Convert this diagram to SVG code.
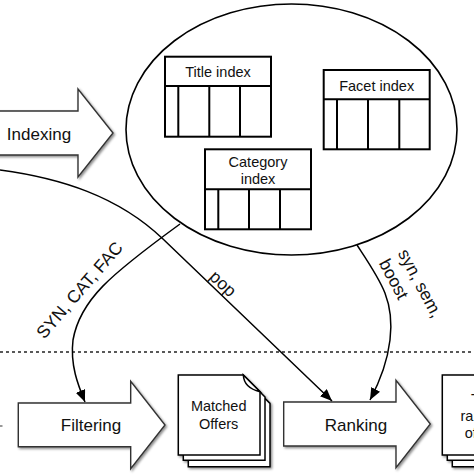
<svg xmlns="http://www.w3.org/2000/svg" width="474" height="474" viewBox="0 0 474 474">
<defs>
<style>
text{font-family:"Liberation Sans",Arial,sans-serif;fill:#111}
.big{font-size:17px;text-anchor:middle}
.sm{font-size:14.5px;text-anchor:middle}
.lbl{font-size:17.5px}
.arrow{fill:#fff;stroke:#333;stroke-width:1.4;stroke-linejoin:miter;filter:url(#sh)}
.tbl{fill:#fff;stroke:#000;stroke-width:2}
.page{fill:#fff;stroke:#000;stroke-width:1.5;stroke-linejoin:miter}
.conn{fill:none;stroke:#000;stroke-width:1.5}
</style>
<filter id="sh" x="-10%" y="-10%" width="130%" height="130%">
<feDropShadow dx="1.5" dy="1.5" stdDeviation="1" flood-color="#000" flood-opacity="0.45"/>
</filter>
<marker id="ah" markerUnits="userSpaceOnUse" markerWidth="13" markerHeight="10" refX="12" refY="5" orient="auto">
<path d="M0,0 L12,5 L0,10 z" fill="#000"/>
</marker>
<path id="pg" d="M0,0 L65,0 L81.7,16.7 L81.7,80 L0,80 z"/>
</defs>
<rect width="474" height="474" fill="#fff"/>

<g id="index-store">
<ellipse cx="291.5" cy="129.5" rx="165.5" ry="125.5" fill="none" stroke="#000" stroke-width="1.6"/>
</g>

<g id="title-index">
<rect class="tbl" x="165" y="56.7" width="106" height="80"/>
<path class="tbl" d="M165,86 H271 M178.3,86 V136.7 M209.3,86 V136.7 M240,86 V136.7"/>
<text class="sm" x="218" y="77">Title index</text>
</g>

<g id="facet-index">
<rect class="tbl" x="323.7" y="70" width="106" height="79.3"/>
<path class="tbl" d="M323.7,99.3 H429.7 M337,99.3 V149.3 M368,99.3 V149.3 M399.3,99.3 V149.3"/>
<text class="sm" x="376.7" y="91">Facet index</text>
</g>

<g id="category-index">
<rect class="tbl" x="205" y="149.3" width="106" height="80"/>
<path class="tbl" d="M205,189.3 H311 M218.3,189.3 V229.3 M249,189.3 V229.3 M280,189.3 V229.3"/>
<text class="sm" x="258" y="167">Category</text>
<text class="sm" x="258" y="184">index</text>
</g>

<g id="indexing">
<polygon class="arrow" points="-5,111 78,111 78,89 113,133 78,177 78,155 -5,155"/>
<text class="big" x="39" y="140">Indexing</text>
</g>

<g id="separator">
<line x1="0" y1="352" x2="474" y2="352" stroke="#222" stroke-width="1.3" stroke-dasharray="3,3"/>
</g>

<g id="filtering">
<polygon class="arrow" points="18.3,403 130.7,403 130.7,381.3 165,425 130.7,468.7 130.7,446.7 18.3,446.7"/>
<text class="big" x="91" y="430.5">Filtering</text>
</g>

<g id="ranking">
<polygon class="arrow" points="283.7,402 396,402 396,380.3 430.3,424 396,467.7 396,446 283.7,446"/>
<text class="big" x="356" y="430.5">Ranking</text>
</g>

<g id="matched-offers">
<g filter="url(#sh)">
<use href="#pg" class="page" x="188.3" y="386.7"/>
<use href="#pg" class="page" x="183.3" y="380.3"/>
<use href="#pg" class="page" x="178.3" y="375"/>
</g>
<path class="page" d="M243.3,375 Q244,388 260,391.7 L243.3,375 z"/>
<text class="sm" x="218.7" y="410.5">Matched</text>
<text class="sm" x="218.7" y="429">Offers</text>
</g>

<g id="top-ranked-offers">
<g filter="url(#sh)">
<use href="#pg" class="page" x="452.3" y="386.7"/>
<use href="#pg" class="page" x="447.3" y="380.3"/>
<use href="#pg" class="page" x="442.3" y="375"/>
</g>
<text class="sm" x="482.7" y="404">Top</text>
<text class="sm" x="482.7" y="421">ranked</text>
<text class="sm" x="482.7" y="438">offers</text>
</g>

<g id="left-fragment">
<line x1="0" y1="426" x2="2.5" y2="426" stroke="#777" stroke-width="1.5"/>
</g>

<g id="connectors">
<path class="conn" d="M0,170 C60,178 118,196 163,239 L332,401" marker-end="url(#ah)"/>
<path class="conn" d="M180,224 C110,275 80,300 73,340 C70,365 78,385 85,402" marker-end="url(#ah)"/>
<path class="conn" d="M357,245 C380,280 395,300 390,340 C387,365 378,385 370,400" marker-end="url(#ah)"/>
<text class="lbl" text-anchor="middle" transform="translate(84,294) rotate(-49)">SYN, CAT, FAC</text>
<text class="lbl" text-anchor="middle" transform="translate(219,288) rotate(43)">pop</text>
<text class="lbl" transform="translate(397.5,253) rotate(62)"><tspan x="0" y="0">syn, sem,</tspan><tspan x="0" y="21.5">boost</tspan></text>
</g>
</svg>
